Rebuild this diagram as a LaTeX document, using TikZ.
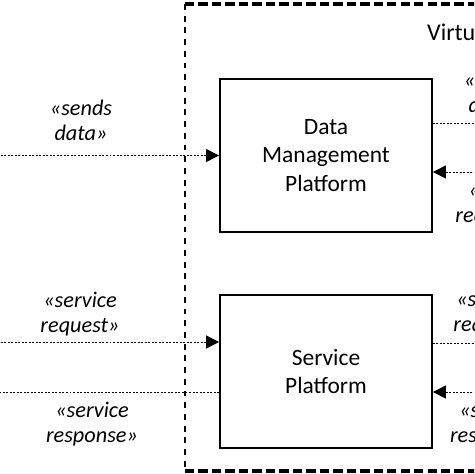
\documentclass[tikz,border=0pt]{standalone}
\usepackage{fontspec}
\setmainfont{Carlito}
\usetikzlibrary{arrows.meta}
\tikzset{
  platform/.style={draw,line width=1.5pt,minimum width=6.36cm,minimum height=4.59cm,
    align=center,font=\fontsize{20}{24}\selectfont},
  msg/.style={line width=0.8pt,dash pattern=on 1.7pt off 1.3pt},
  msgin/.style={msg,-{Triangle[length=3.9mm,width=3.9mm]}},
  stereo/.style={align=center,font=\fontsize{19}{21.5}\selectfont\itshape},
}

\begin{document}
\begin{tikzpicture}[x=0.03cm,y=-0.03cm]
\useasboundingbox (0,0) rectangle (474,474);
\clip (0,0) rectangle (474,474);
\draw[line width=3pt,dash pattern=on 8pt off 3.5pt] (185,4) -- (490,4);
\draw[line width=3pt,dash pattern=on 8pt off 3.5pt] (185,471) -- (490,471);
\draw[line width=1.6pt,dash pattern=on 5pt off 5pt] (185,4) -- (185,471);
\node[anchor=west,font=\fontsize{20.5}{24}\selectfont] (vname) at (423,32) {Virtual};
\node[platform] (dmp) at (326,155.5) {Data\\Management\\Platform};
\node[platform] (sp) at (326,371.5) {Service\\Platform};
\coordinate (lsd) at (-10,155.5);
\coordinate (lsq) at (-10,342);
\coordinate (lsr) at (-10,392);
\coordinate (rsd) at (490,123);
\coordinate (rdq) at (490,172);
\coordinate (rsq) at (490,343);
\coordinate (rsr) at (490,392);
\draw[msgin] (lsd) -- (dmp.west);
\draw[msgin] (lsq) -- (sp.west |- lsq);
\draw[msg] (sp.west |- lsr) -- (lsr);
\draw[msg] (dmp.east |- rsd) -- (rsd);
\draw[msgin] (rdq) -- (dmp.east |- rdq);
\draw[msg] (sp.east |- rsq) -- (rsq);
\draw[msgin] (rsr) -- (sp.east |- rsr);
\node[stereo] at (81,120) {«sends\\data»};
\node[stereo] at (80,314) {«service\\request»};
\node[stereo] at (92,424) {«service\\response»};
\node[stereo] at (495,92) {«sends\\data»};
\node[stereo] at (495,204) {«data\\request»};
\node[stereo] at (493,313) {«service\\request»};
\node[stereo] at (496,424) {«service\\response»};
\end{tikzpicture}
\end{document}
